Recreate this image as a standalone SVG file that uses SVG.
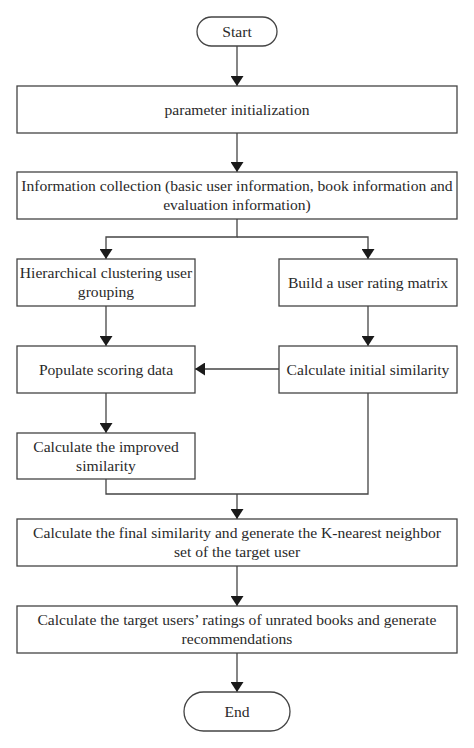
<svg xmlns="http://www.w3.org/2000/svg" width="474" height="748" viewBox="0 0 474 748">
<style>
.b{fill:#fff;stroke:#444;stroke-width:1.3}
.t{font-family:"Liberation Serif","Times New Roman",serif;font-size:15.6px;fill:#2a2a2a;text-anchor:middle}
.c{fill:none;stroke:#444;stroke-width:1.3}
</style>
<defs>
<marker id="a" viewBox="0 0 10 13" refX="10" refY="6.5" markerWidth="10" markerHeight="13" markerUnits="userSpaceOnUse" orient="auto">
<path d="M0,0 L10,6.5 L0,13 Z" fill="#1a1a1a"/>
</marker>
</defs>
<rect width="474" height="748" fill="#fff"/>
<g id="connectors">
<line class="c" x1="237" y1="46" x2="237" y2="86" marker-end="url(#a)"/>
<line class="c" x1="237" y1="133" x2="237" y2="172" marker-end="url(#a)"/>
<polyline class="c" points="237,219 237,237 106,237 106,259" marker-end="url(#a)"/>
<polyline class="c" points="237,237 368,237 368,259" marker-end="url(#a)"/>
<line class="c" x1="106" y1="306" x2="106" y2="346" marker-end="url(#a)"/>
<line class="c" x1="368" y1="306" x2="368" y2="346" marker-end="url(#a)"/>
<line class="c" x1="279" y1="369" x2="195" y2="369" marker-end="url(#a)"/>
<line class="c" x1="106" y1="393" x2="106" y2="433" marker-end="url(#a)"/>
<polyline class="c" points="106,479 106,494 368,494 368,393"/>
<line class="c" x1="237" y1="494" x2="237" y2="519" marker-end="url(#a)"/>
<line class="c" x1="237" y1="566" x2="237" y2="606" marker-end="url(#a)"/>
<line class="c" x1="237" y1="653" x2="237" y2="692" marker-end="url(#a)"/>
</g>
<g id="start">
<rect class="b" x="197" y="17" width="80" height="29" rx="14.5"/>
<text class="t" x="237" y="36.5">Start</text>
</g>
<g id="init">
<rect class="b" x="17" y="86" width="440" height="47"/>
<text class="t" x="237" y="114.5">parameter initialization</text>
</g>
<g id="collect">
<rect class="b" x="17" y="172" width="440" height="47"/>
<text class="t" x="237" y="190.5">Information collection (basic user information, book information and</text>
<text class="t" x="237" y="209.5">evaluation information)</text>
</g>
<g id="cluster">
<rect class="b" x="17" y="259" width="178" height="47"/>
<text class="t" x="106" y="277.5">Hierarchical clustering user</text>
<text class="t" x="106" y="296.5">grouping</text>
</g>
<g id="matrix">
<rect class="b" x="279" y="259" width="178" height="47"/>
<text class="t" x="368" y="287.5">Build a user rating matrix</text>
</g>
<g id="populate">
<rect class="b" x="17" y="346" width="178" height="47"/>
<text class="t" x="106" y="374.5">Populate scoring data</text>
</g>
<g id="initsim">
<rect class="b" x="279" y="346" width="178" height="47"/>
<text class="t" x="368" y="374.5">Calculate initial similarity</text>
</g>
<g id="improved">
<rect class="b" x="17" y="433" width="178" height="46"/>
<text class="t" x="106" y="451.5">Calculate the improved</text>
<text class="t" x="106" y="470.5">similarity</text>
</g>
<g id="final">
<rect class="b" x="17" y="519" width="440" height="47"/>
<text class="t" x="237" y="537.5">Calculate the final similarity and generate the K-nearest neighbor</text>
<text class="t" x="237" y="556.5">set of the target user</text>
</g>
<g id="ratings">
<rect class="b" x="17" y="606" width="440" height="47"/>
<text class="t" x="237" y="624.5">Calculate the target users’ ratings of unrated books and generate</text>
<text class="t" x="237" y="643.5">recommendations</text>
</g>
<g id="end">
<rect class="b" x="184" y="692" width="106" height="39" rx="19.5"/>
<text class="t" x="237" y="716.5">End</text>
</g>
</svg>
